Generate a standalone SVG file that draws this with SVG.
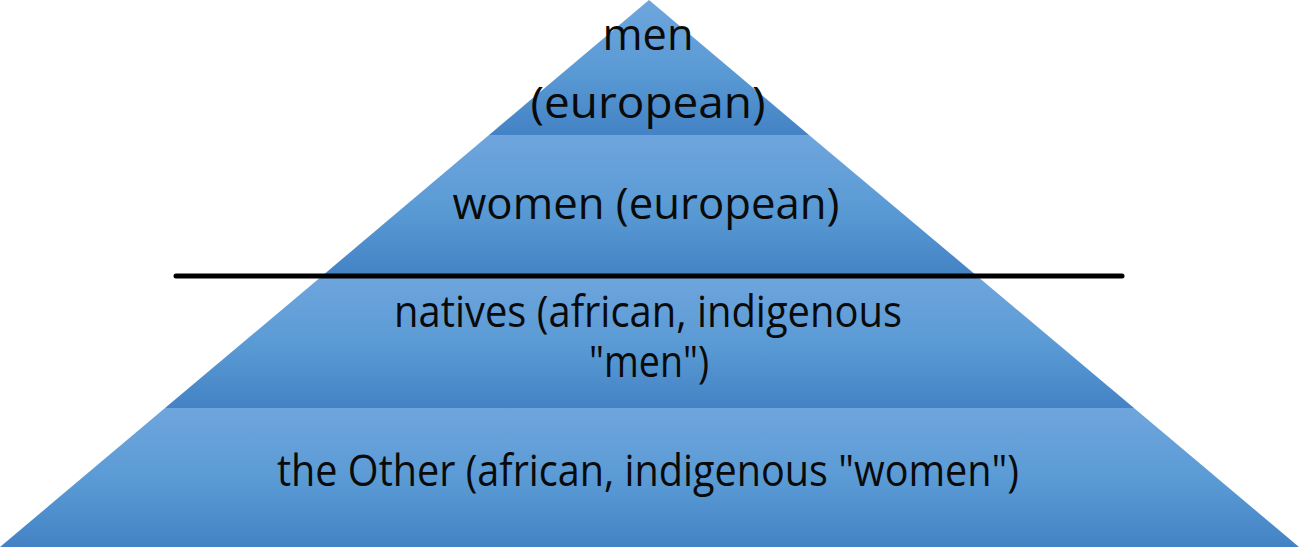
<svg xmlns="http://www.w3.org/2000/svg" width="1299" height="547" viewBox="0 0 1299 547">
<defs>
<linearGradient id="g" x1="0" y1="0" x2="0" y2="1">
<stop offset="0" stop-color="#6fa5dd"/>
<stop offset="0.5" stop-color="#5b9bd5"/>
<stop offset="1" stop-color="#4383c5"/>
</linearGradient>
<style>
.layer{fill:url(#g);}
.t{font-family:"Open Sans","Liberation Sans",sans-serif;font-size:44px;fill:#0a0a0a;text-anchor:middle;}
</style>
</defs>
<rect width="1299" height="547" fill="#ffffff"/>
<g id="layer1">
<polygon class="layer" points="649,0 809,135 489,135"/>
<text class="t" x="648" y="50" textLength="91" lengthAdjust="spacingAndGlyphs">men</text>
<text class="t" x="648" y="118" textLength="235" lengthAdjust="spacingAndGlyphs">(european)</text>
</g>
<g id="layer2">
<polygon class="layer" points="489,135 809,135 977,276 322,276"/>
<text class="t" x="646" y="219" textLength="387" lengthAdjust="spacingAndGlyphs">women (european)</text>
</g>
<g id="layer3">
<polygon class="layer" points="322,276 977,276 1134,408 165,408"/>
<text class="t" x="648" y="327" textLength="508" lengthAdjust="spacingAndGlyphs">natives (african, indigenous</text>
<text class="t" x="649" y="377" textLength="120" lengthAdjust="spacingAndGlyphs">"men")</text>
</g>
<g id="layer4">
<polygon class="layer" points="165,408 1134,408 1299,547 0,547"/>
<text class="t" x="648" y="486" textLength="742" lengthAdjust="spacingAndGlyphs">the Other (african, indigenous "women")</text>
</g>
<g id="connectors">
<line x1="176" y1="276" x2="1122" y2="276" stroke="#000" stroke-width="5" stroke-linecap="round"/>
</g>
</svg>
